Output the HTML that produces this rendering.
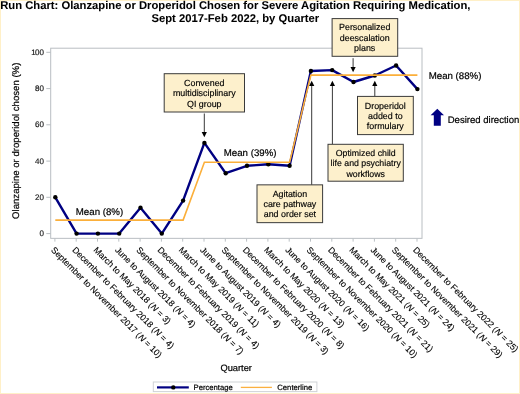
<!DOCTYPE html>
<html><head><meta charset="utf-8"><title>Run Chart</title>
<style>html,body{margin:0;padding:0;background:#fff;}svg{display:block;filter:blur(0.3px);}text{font-family:"Liberation Sans",Arial,sans-serif;text-rendering:geometricPrecision;stroke:#000;stroke-width:0.2px;}.b{stroke-width:0.15px;fill:#000}.xl{stroke-width:0.12px}</style></head><body>
<svg width="520" height="394" viewBox="0 0 520 394">
<rect x="0" y="0" width="520" height="394" fill="#ffffff"/>
<rect x="0.5" y="0.5" width="519" height="393" fill="none" stroke="#FFF0C8" stroke-width="1"/>
<text x="0.2" y="9.3" font-size="11.25" font-weight="bold" style="stroke-width:0.05px" fill="#000" textLength="470.2" lengthAdjust="spacingAndGlyphs">Run Chart: Olanzapine or Droperidol Chosen for Severe Agitation Requiring Medication,</text>
<text x="151.4" y="22.4" font-size="11.25" font-weight="bold" style="stroke-width:0.05px" fill="#000" textLength="167.8" lengthAdjust="spacingAndGlyphs">Sept 2017-Feb 2022, by Quarter</text>
<rect x="50.7" y="48.2" width="371.3" height="190.14999999999998" fill="none" stroke="#B9BEC2" stroke-width="1"/>
<line x1="46.3" y1="233.6" x2="50.7" y2="233.6" stroke="#B9BEC2" stroke-width="1"/>
<text x="43.9" y="236.1" font-size="8" text-anchor="end" fill="#222" style="stroke-width:0.15px">0</text>
<line x1="46.3" y1="197.3" x2="50.7" y2="197.3" stroke="#B9BEC2" stroke-width="1"/>
<text x="43.9" y="199.8" font-size="8" text-anchor="end" fill="#222" style="stroke-width:0.15px">20</text>
<line x1="46.3" y1="161.1" x2="50.7" y2="161.1" stroke="#B9BEC2" stroke-width="1"/>
<text x="43.9" y="163.6" font-size="8" text-anchor="end" fill="#222" style="stroke-width:0.15px">40</text>
<line x1="46.3" y1="124.8" x2="50.7" y2="124.8" stroke="#B9BEC2" stroke-width="1"/>
<text x="43.9" y="127.3" font-size="8" text-anchor="end" fill="#222" style="stroke-width:0.15px">60</text>
<line x1="46.3" y1="88.6" x2="50.7" y2="88.6" stroke="#B9BEC2" stroke-width="1"/>
<text x="43.9" y="91.1" font-size="8" text-anchor="end" fill="#222" style="stroke-width:0.15px">80</text>
<line x1="46.3" y1="52.3" x2="50.7" y2="52.3" stroke="#B9BEC2" stroke-width="1"/>
<text x="43.9" y="54.8" font-size="8" text-anchor="end" fill="#222" style="stroke-width:0.15px">1<tspan dx="-0.7">00</tspan></text>
<line x1="54.9" y1="238.35" x2="54.9" y2="241.65" stroke="#BCC1C5" stroke-width="1"/>
<line x1="76.2" y1="238.35" x2="76.2" y2="241.65" stroke="#BCC1C5" stroke-width="1"/>
<line x1="97.5" y1="238.35" x2="97.5" y2="241.65" stroke="#BCC1C5" stroke-width="1"/>
<line x1="118.8" y1="238.35" x2="118.8" y2="241.65" stroke="#BCC1C5" stroke-width="1"/>
<line x1="140.1" y1="238.35" x2="140.1" y2="241.65" stroke="#BCC1C5" stroke-width="1"/>
<line x1="161.4" y1="238.35" x2="161.4" y2="241.65" stroke="#BCC1C5" stroke-width="1"/>
<line x1="182.7" y1="238.35" x2="182.7" y2="241.65" stroke="#BCC1C5" stroke-width="1"/>
<line x1="204.0" y1="238.35" x2="204.0" y2="241.65" stroke="#BCC1C5" stroke-width="1"/>
<line x1="225.3" y1="238.35" x2="225.3" y2="241.65" stroke="#BCC1C5" stroke-width="1"/>
<line x1="246.6" y1="238.35" x2="246.6" y2="241.65" stroke="#BCC1C5" stroke-width="1"/>
<line x1="267.9" y1="238.35" x2="267.9" y2="241.65" stroke="#BCC1C5" stroke-width="1"/>
<line x1="289.2" y1="238.35" x2="289.2" y2="241.65" stroke="#BCC1C5" stroke-width="1"/>
<line x1="310.5" y1="238.35" x2="310.5" y2="241.65" stroke="#BCC1C5" stroke-width="1"/>
<line x1="331.8" y1="238.35" x2="331.8" y2="241.65" stroke="#BCC1C5" stroke-width="1"/>
<line x1="353.1" y1="238.35" x2="353.1" y2="241.65" stroke="#BCC1C5" stroke-width="1"/>
<line x1="374.4" y1="238.35" x2="374.4" y2="241.65" stroke="#BCC1C5" stroke-width="1"/>
<line x1="395.7" y1="238.35" x2="395.7" y2="241.65" stroke="#BCC1C5" stroke-width="1"/>
<line x1="417.0" y1="238.35" x2="417.0" y2="241.65" stroke="#BCC1C5" stroke-width="1"/>
<text transform="translate(19.3,140.8) rotate(-90)" font-size="9.6" text-anchor="middle" fill="#000">Olanzapine or droperidol chosen (%)</text>
<polyline fill="none" stroke="#000082" stroke-width="2.4" stroke-linejoin="round" points="55.3,197.3 76.6,233.6 97.9,233.6 119.2,233.6 140.5,207.7 161.8,233.6 183.1,200.6 204.4,142.9 225.7,173.2 247.0,165.8 268.3,164.3 289.6,165.8 310.9,71.0 332.2,70.1 353.5,82.0 374.8,75.5 396.1,65.5 417.4,89.1"/>
<circle cx="55.3" cy="197.3" r="2.2" fill="#000"/>
<circle cx="76.6" cy="233.6" r="2.2" fill="#000"/>
<circle cx="97.9" cy="233.6" r="2.2" fill="#000"/>
<circle cx="119.2" cy="233.6" r="2.2" fill="#000"/>
<circle cx="140.5" cy="207.7" r="2.2" fill="#000"/>
<circle cx="161.8" cy="233.6" r="2.2" fill="#000"/>
<circle cx="183.1" cy="200.6" r="2.2" fill="#000"/>
<circle cx="204.4" cy="142.9" r="2.2" fill="#000"/>
<circle cx="225.7" cy="173.2" r="2.2" fill="#000"/>
<circle cx="247.0" cy="165.8" r="2.2" fill="#000"/>
<circle cx="268.3" cy="164.3" r="2.2" fill="#000"/>
<circle cx="289.6" cy="165.8" r="2.2" fill="#000"/>
<circle cx="310.9" cy="71.0" r="2.2" fill="#000"/>
<circle cx="332.2" cy="70.1" r="2.2" fill="#000"/>
<circle cx="353.5" cy="82.0" r="2.2" fill="#000"/>
<circle cx="374.8" cy="75.5" r="2.2" fill="#000"/>
<circle cx="396.1" cy="65.5" r="2.2" fill="#000"/>
<circle cx="417.4" cy="89.1" r="2.2" fill="#000"/>
<polyline fill="none" stroke="#FBAF3A" stroke-width="1.6" stroke-linejoin="miter" points="55.3,220.1 183.1,220.1 204.4,162.2 289.6,162.2 310.9,75.1 417.4,75.1"/>
<text transform="translate(50.5,250.5) rotate(45)" font-size="8.8" class="xl" fill="#000">September to November 2017 (<tspan font-style="italic">N</tspan> = 10)</text>
<text transform="translate(71.8,250.5) rotate(45)" font-size="8.8" class="xl" fill="#000">December to February 2018 (<tspan font-style="italic">N</tspan> = 4)</text>
<text transform="translate(93.1,250.5) rotate(45)" font-size="8.8" class="xl" fill="#000">March to May 2018 (<tspan font-style="italic">N</tspan> = 3)</text>
<text transform="translate(114.4,250.5) rotate(45)" font-size="8.8" class="xl" fill="#000">June to August 2018 (<tspan font-style="italic">N</tspan> = 4)</text>
<text transform="translate(135.7,250.5) rotate(45)" font-size="8.8" class="xl" fill="#000">September to November 2018 (<tspan font-style="italic">N</tspan> = 7)</text>
<text transform="translate(157.0,250.5) rotate(45)" font-size="8.8" class="xl" fill="#000">December to February 2019 (<tspan font-style="italic">N</tspan> = 4)</text>
<text transform="translate(178.3,250.5) rotate(45)" font-size="8.8" class="xl" fill="#000">March to May 2019 (<tspan font-style="italic">N</tspan> = 11)</text>
<text transform="translate(199.6,250.5) rotate(45)" font-size="8.8" class="xl" fill="#000">June to August 2019 (<tspan font-style="italic">N</tspan> = 4)</text>
<text transform="translate(220.9,250.5) rotate(45)" font-size="8.8" class="xl" fill="#000">September to November 2019 (<tspan font-style="italic">N</tspan> = 3)</text>
<text transform="translate(242.2,250.5) rotate(45)" font-size="8.8" class="xl" fill="#000">December to February 2020 (<tspan font-style="italic">N</tspan> = 8)</text>
<text transform="translate(263.5,250.5) rotate(45)" font-size="8.8" class="xl" fill="#000">March to May 2020 (<tspan font-style="italic">N</tspan> = 13)</text>
<text transform="translate(284.8,250.5) rotate(45)" font-size="8.8" class="xl" fill="#000">June to August 2020 (<tspan font-style="italic">N</tspan> = 16)</text>
<text transform="translate(306.1,250.5) rotate(45)" font-size="8.8" class="xl" fill="#000">September to November 2020 (<tspan font-style="italic">N</tspan> = 10)</text>
<text transform="translate(327.4,250.5) rotate(45)" font-size="8.8" class="xl" fill="#000">December to February 2021 (<tspan font-style="italic">N</tspan> = 21)</text>
<text transform="translate(348.7,250.5) rotate(45)" font-size="8.8" class="xl" fill="#000">March to May 2021 (<tspan font-style="italic">N</tspan> = 25)</text>
<text transform="translate(370.0,250.5) rotate(45)" font-size="8.8" class="xl" fill="#000">June to August 2021 (<tspan font-style="italic">N</tspan> = 24)</text>
<text transform="translate(391.3,250.5) rotate(45)" font-size="8.8" class="xl" fill="#000">September to November 2021 (<tspan font-style="italic">N</tspan> = 29)</text>
<text transform="translate(412.6,250.5) rotate(45)" font-size="8.8" class="xl" fill="#000">December to February 2022 (<tspan font-style="italic">N</tspan> = 25)</text>
<text x="75.8" y="215.0" font-size="9.7" fill="#000">Mean (8%)</text>
<text x="223.8" y="155.6" font-size="9.68" fill="#000">Mean (39%)</text>
<text x="428.7" y="79.1" font-size="9.7" fill="#000">Mean (88%)</text>
<text x="447.7" y="122.9" font-size="9.55" fill="#000">Desired direction</text>
<polygon points="437.3,108.8 444,115.2 440.8,115.2 440.8,125.8 433.8,125.8 433.8,115.2 430.6,115.2" fill="#000082"/>
<line x1="204.3" y1="113.5" x2="204.3" y2="134.2" stroke="#222" stroke-width="0.9"/>
<polygon points="204.3,137.2 201.70000000000002,132.0 206.9,132.0" fill="#000"/>
<line x1="353.1" y1="58.2" x2="353.1" y2="69.2" stroke="#222" stroke-width="0.9"/>
<polygon points="353.1,72.2 350.5,67.0 355.70000000000005,67.0" fill="#000"/>
<line x1="311.7" y1="184.85" x2="311.7" y2="83.7" stroke="#222" stroke-width="0.9"/>
<polygon points="311.7,80.7 309.09999999999997,85.9 314.3,85.9" fill="#000"/>
<line x1="332.4" y1="144.3" x2="332.4" y2="83.7" stroke="#222" stroke-width="0.9"/>
<polygon points="332.4,80.7 329.79999999999995,85.9 335.0,85.9" fill="#000"/>
<line x1="374.8" y1="96.4" x2="374.8" y2="83.7" stroke="#222" stroke-width="0.9"/>
<polygon points="374.8,80.7 372.2,85.9 377.40000000000003,85.9" fill="#000"/>
<rect x="164.2" y="73.7" width="80.3" height="38.3" fill="#FDF0CC" stroke="#3a3a3a" stroke-width="1"/>
<text x="204.3" y="85.8" font-size="8.9" class="b" text-anchor="middle">Convened</text>
<text x="204.3" y="96.2" font-size="8.9" class="b" text-anchor="middle">multidisciplinary</text>
<text x="204.3" y="106.8" font-size="8.9" class="b" text-anchor="middle">QI group</text>
<rect x="332.1" y="18.6" width="65.6" height="37.7" fill="#FDF0CC" stroke="#3a3a3a" stroke-width="1"/>
<text x="364.7" y="30.2" font-size="8.9" class="b" text-anchor="middle">Personalized</text>
<text x="364.7" y="40.6" font-size="8.9" class="b" text-anchor="middle">deescalation</text>
<text x="364.7" y="51.0" font-size="8.9" class="b" text-anchor="middle">plans</text>
<rect x="357.5" y="96.4" width="55.8" height="38.2" fill="#FDF0CC" stroke="#3a3a3a" stroke-width="1"/>
<text x="385.3" y="108.5" font-size="8.9" class="b" text-anchor="middle">Droperidol</text>
<text x="385.3" y="118.9" font-size="8.9" class="b" text-anchor="middle">added to</text>
<text x="385.3" y="129.1" font-size="8.9" class="b" text-anchor="middle">formulary</text>
<rect x="328.0" y="144.3" width="75.3" height="36.9" fill="#FDF0CC" stroke="#3a3a3a" stroke-width="1"/>
<text x="365.7" y="155.6" font-size="8.78" class="b" text-anchor="middle">Optimized child</text>
<text x="365.7" y="165.8" font-size="8.78" class="b" text-anchor="middle">life and psychiatry</text>
<text x="365.7" y="176.5" font-size="8.78" class="b" text-anchor="middle">workflows</text>
<rect x="257.0" y="184.85" width="65.6" height="37.8" fill="#FDF0CC" stroke="#3a3a3a" stroke-width="1"/>
<text x="289.9" y="196.9" font-size="8.9" class="b" text-anchor="middle">Agitation</text>
<text x="289.9" y="206.8" font-size="8.9" class="b" text-anchor="middle">care pathway</text>
<text x="289.9" y="217.3" font-size="8.9" class="b" text-anchor="middle">and order set</text>
<text x="236.2" y="370.7" font-size="9.3" text-anchor="middle" fill="#000">Quarter</text>
<rect x="153.3" y="382" width="163.6" height="9.6" fill="#fff" stroke="#D0D3D6" stroke-width="1"/>
<line x1="157" y1="387.4" x2="188.8" y2="387.4" stroke="#000082" stroke-width="2.2"/>
<circle cx="173.3" cy="387.4" r="2.2" fill="#000"/>
<text x="193.5" y="389.5" font-size="7.7" fill="#000">Percentage</text>
<line x1="240.8" y1="387.4" x2="271.9" y2="387.4" stroke="#FBB040" stroke-width="1.3"/>
<text x="277.3" y="389.5" font-size="7.7" fill="#000">Centerline</text>
</svg></body></html>
